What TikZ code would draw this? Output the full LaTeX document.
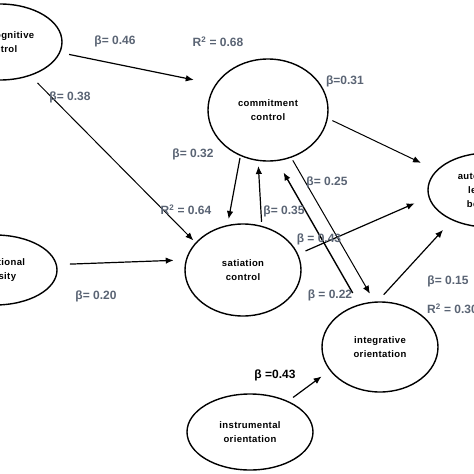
\documentclass[tikz,border=0pt]{standalone}
\usepackage{fontspec}
\setmainfont{Liberation Sans}
\newfontfamily\latentfont{Liberation Sans}[LetterSpace=4]
\usetikzlibrary{arrows.meta,shapes.geometric}
\definecolor{coefgray}{HTML}{5A6474}

\begin{document}
\begin{tikzpicture}[x=1pt,y=-1pt,>={Latex[length=8pt,width=6.5pt]},
  latent/.style={ellipse, draw, line width=1.4pt, inner sep=0pt, align=center,
    font={\fontsize{9.5}{14}\latentfont\bfseries}},
  effect/.style={->, line width=1.2pt},
  coef/.style={inner sep=0pt, text=coefgray, font={\fontsize{12}{14}\selectfont\bfseries}}]
\useasboundingbox (0,0) rectangle (474,474);
\clip (0,0) rectangle (474,474);

\node (meta) [latent, minimum width=124pt, minimum height=76pt] at (0,42) {metacognitive\\control};
\node (emo) [latent, minimum width=124pt, minimum height=70pt] at (-5,270) {motivational\\intensity};
\node (commit) [latent, minimum width=120pt, minimum height=102pt] at (268,110) {commitment\\control};
\node (sat) [latent, minimum width=116pt, minimum height=92pt] at (243,270) {satiation\\control};
\node (auto) [latent, minimum width=120pt, minimum height=74pt] at (488,190) {autonomous\\learning\\behavior};
\node (integ) [latent, minimum width=116pt, minimum height=90pt] at (380,347) {integrative\\orientation};
\node (instr) [latent, minimum width=126pt, minimum height=76pt] at (250,432) {instrumental\\orientation};

\draw[effect, shorten <=9pt, shorten >=22pt] (meta.-10.8) -- (commit.154.1);
\draw[effect, line width=1pt, shorten <=10pt, shorten >=3pt] (meta.-48) -- (sat.150.75);
\draw[effect, shorten <=2pt, shorten >=6pt] (commit.-121.7) -- (sat.109.8);
\draw[effect, shorten <=4pt, shorten >=5pt] (sat.67) -- (commit.-101.3);
\draw[effect, line width=1pt, shorten <=3pt, shorten >=9pt] (commit.-64.4) -- (integ.97.4);
\draw[effect, line width=1.4pt, shorten <=13pt, shorten >=13pt] (integ.116.6) -- (commit.-80.1);
\draw[effect, shorten <=8pt, shorten >=15pt] (sat.16.2) -- (auto.187.8);
\draw[effect, line width=1pt, shorten <=5pt, shorten >=17pt] (commit.-8.9) -- (auto.159.5);
\draw[effect, shorten <=9pt, shorten >=13pt] (integ.93.2) -- (auto.220.2);
\draw[effect, shorten <=13pt, shorten >=12pt] (emo.5.4) -- (sat.170.1);
\draw[effect, shorten <=6pt, shorten >=10pt] (instr.39) -- (integ.205.8);

\node (b46) [coef] at (115,41) {β= 0.46};
\node (r68) [coef] at (218,42) {R\textsuperscript{2} = 0.68};
\node (b38) [coef] at (70,97) {β= 0.38};
\node (b32) [coef] at (193,154) {β= 0.32};
\node (b31) [coef] at (345,81) {β=0.31};
\node (r64) [coef] at (186,210) {R\textsuperscript{2} = 0.64};
\node (b20) [coef] at (96,296) {β= 0.20};
\node (b25) [coef] at (327,182) {β= 0.25};
\node (b35) [coef] at (284,211) {β= 0.35};
\node (b43) [coef] at (319,239) {β = 0.43};
\node (b22) [coef] at (330,295) {β = 0.22};
\node (b15) [coef] at (448,281) {β= 0.15};
\node (r30) [coef, anchor=west] at (427,309) {R\textsuperscript{2} = 0.30};
\node (b43i) [coef, text=black] at (275,375) {β =0.43};
\end{tikzpicture}
\end{document}
